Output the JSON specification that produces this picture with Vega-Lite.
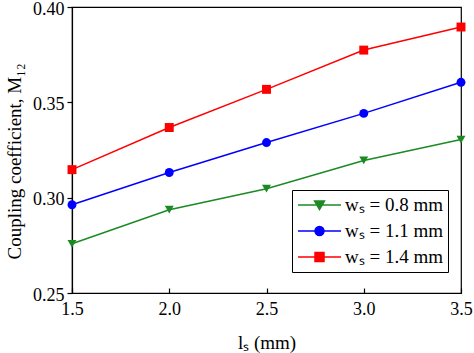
{
  "$schema": "https://vega.github.io/schema/vega-lite/v6.json",
  "width": 389,
  "height": 286,
  "autosize": {"type": "none"},
  "padding": {"left": 72, "top": 7, "right": 13, "bottom": 60},
  "background": "white",
  "config": {
    "font": "Liberation Serif",
    "view": {"stroke": "black", "strokeWidth": 1.2},
    "axis": {"grid": false, "domainColor": "black", "tickColor": "black", "labelColor": "black", "titleColor": "black", "labelFont": "Liberation Serif", "titleFont": "Liberation Serif", "labelFontSize": 18, "titleFontSize": 19, "titleFontWeight": "normal", "domainWidth": 1.2, "tickWidth": 1.2}
  },
  "data": {"values": [
    {"ls": 1.5, "ws": "0.8", "m": 0.2758},
    {"ls": 2.0, "ws": "0.8", "m": 0.2937},
    {"ls": 2.5, "ws": "0.8", "m": 0.3047},
    {"ls": 3.0, "ws": "0.8", "m": 0.3195},
    {"ls": 3.5, "ws": "0.8", "m": 0.3305},
    {"ls": 1.5, "ws": "1.1", "m": 0.2963},
    {"ls": 2.0, "ws": "1.1", "m": 0.3132},
    {"ls": 2.5, "ws": "1.1", "m": 0.3289},
    {"ls": 3.0, "ws": "1.1", "m": 0.3442},
    {"ls": 3.5, "ws": "1.1", "m": 0.3605},
    {"ls": 1.5, "ws": "1.4", "m": 0.3147},
    {"ls": 2.0, "ws": "1.4", "m": 0.3368},
    {"ls": 2.5, "ws": "1.4", "m": 0.3568},
    {"ls": 3.0, "ws": "1.4", "m": 0.3774},
    {"ls": 3.5, "ws": "1.4", "m": 0.3895}
  ]},
  "encoding": {
    "x": {"field": "ls", "type": "quantitative", "scale": {"domain": [1.5, 3.5], "nice": false, "zero": false},
      "axis": {"title": "lₛ (mm)", "values": [1.5, 2.0, 2.5, 3.0, 3.5], "format": ".1f", "tickSize": -5, "labelPadding": 12, "titlePadding": 15, "labelFlush": false}},
    "y": {"field": "m", "type": "quantitative", "scale": {"domain": [0.25, 0.40], "nice": false, "zero": false},
      "axis": {"title": "Coupling coefficient, M₁₂", "values": [0.25, 0.30, 0.35, 0.40], "format": ".2f", "tickSize": 5, "labelPadding": 3, "labelOffset": 2, "titlePadding": 8, "titleY": 154, "labelFlush": false}},
    "color": {"field": "ws", "type": "nominal", "scale": {"domain": ["0.8", "1.1", "1.4"], "range": ["#1b8a24", "#0000ff", "#ff0000"]}}
  },
  "layer": [
    {
      "mark": {"type": "line", "strokeWidth": 1.5},
      "encoding": {
        "color": {"field": "ws", "type": "nominal",
          "legend": {
            "orient": "none", "legendX": 220, "legendY": 183,
            "title": null, "strokeColor": "black", "fillColor": "white", "padding": 5,
            "symbolSize": 324, "symbolStrokeWidth": 1.5, "labelOffset": 28,
            "labelFont": "Liberation Serif", "labelFontSize": 19, "labelColor": "black",
            "rowPadding": 6, "labelLimit": 200,
            "labelExpr": "'wₛ = ' + datum.label + ' mm'",
            "encode": {"symbols": {"update": {
              "shape": {"signal": "datum.value == '0.8' ? 'M-1,0H3.78M0.84,-0.45H1.94L1.39,0.5Z' : datum.value == '1.1' ? 'M-1,0H3.78M1.89,0A0.5,0.5 0 1,1 0.89,0A0.5,0.5 0 1,1 1.89,0Z' : 'M-1,0H3.78M0.89,-0.5H1.89V0.5H0.89Z'"},
              "fill": {"signal": "scale('color', datum.value)"},
              "stroke": {"signal": "scale('color', datum.value)"},
              "strokeWidth": {"value": 1.5},
              "opacity": {"value": 1}
            }}}
          }}
      }
    },
    {
      "transform": [{"filter": "datum.ws == '0.8'"}],
      "mark": {"type": "point", "filled": true, "opacity": 1, "size": 80, "shape": "triangle-down"},
      "encoding": {"color": {"field": "ws", "type": "nominal", "legend": null}}
    },
    {
      "transform": [{"filter": "datum.ws == '1.1'"}],
      "mark": {"type": "point", "filled": true, "opacity": 1, "size": 80, "shape": "circle"},
      "encoding": {"color": {"field": "ws", "type": "nominal", "legend": null}}
    },
    {
      "transform": [{"filter": "datum.ws == '1.4'"}],
      "mark": {"type": "point", "filled": true, "opacity": 1, "size": 80, "shape": "square"},
      "encoding": {"color": {"field": "ws", "type": "nominal", "legend": null}}
    }
  ]
}
